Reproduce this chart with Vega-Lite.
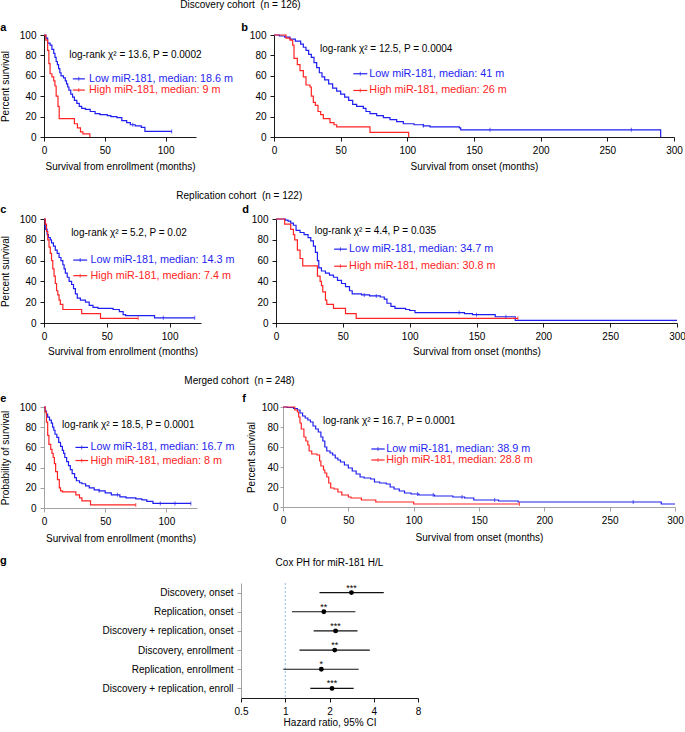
{
"$schema": "https://vega.github.io/schema/vega-lite/v6.json",
"padding": {"left": 0, "top": 0, "right": 0, "bottom": 2},
"background": "white",
"config": {
  "font": "Liberation Sans",
  "view": {"stroke": null},
  "axis": {"grid": false, "domainColor": "black", "tickColor": "black", "labelColor": "black", "titleColor": "black", "labelFontSize": 10, "titleFontSize": 10, "titleFontWeight": "normal", "tickSize": 4, "labelPadding": 4, "domainWidth": 0.9, "tickWidth": 0.9, "titlePadding": 5, "labelFlush": false, "labelOverlap": false},
  "axisY": {"titlePadding": 9},
  "title": {"color": "black", "fontWeight": "normal", "fontSize": 10}
},
"datasets": {
"ka": [
{"t":0,"s":100,"g":"Low"},{"t":1.5,"s":97,"g":"Low"},{"t":3,"s":92,"g":"Low"},{"t":5,"s":90,"g":"Low"},{"t":6.5,"s":86,"g":"Low"},{"t":8,"s":82,"g":"Low"},{"t":9,"s":78,"g":"Low"},{"t":10,"s":74,"g":"Low"},{"t":11,"s":71,"g":"Low"},{"t":12,"s":67,"g":"Low"},{"t":13,"s":63,"g":"Low"},{"t":14,"s":60,"g":"Low"},{"t":16,"s":58,"g":"Low"},{"t":17.5,"s":55,"g":"Low"},{"t":18.5,"s":52,"g":"Low"},{"t":19.5,"s":49,"g":"Low"},{"t":20.5,"s":46,"g":"Low"},{"t":22,"s":42,"g":"Low"},{"t":23.5,"s":39,"g":"Low"},{"t":25,"s":36,"g":"Low"},{"t":27,"s":33,"g":"Low"},{"t":29,"s":30,"g":"Low"},{"t":31,"s":28,"g":"Low"},{"t":34,"s":27,"g":"Low"},{"t":38,"s":25,"g":"Low"},{"t":42,"s":23,"g":"Low"},{"t":46,"s":22,"g":"Low"},{"t":52,"s":21,"g":"Low"},{"t":55,"s":20,"g":"Low"},{"t":60,"s":19,"g":"Low"},{"t":64,"s":16,"g":"Low"},{"t":68,"s":14,"g":"Low"},{"t":71,"s":12,"g":"Low"},{"t":75,"s":11,"g":"Low"},{"t":80,"s":9.5,"g":"Low"},{"t":83,"s":5.5,"g":"Low"},{"t":105,"s":5.5,"g":"Low"},
{"t":0,"s":100,"g":"High"},{"t":1.5,"s":95,"g":"High"},{"t":3,"s":85,"g":"High"},{"t":4,"s":72,"g":"High"},{"t":5,"s":62,"g":"High"},{"t":6.5,"s":59,"g":"High"},{"t":8,"s":55,"g":"High"},{"t":9,"s":50,"g":"High"},{"t":10,"s":40,"g":"High"},{"t":11.5,"s":30,"g":"High"},{"t":12.5,"s":18,"g":"High"},{"t":25,"s":13,"g":"High"},{"t":27.5,"s":9,"g":"High"},{"t":30,"s":5,"g":"High"},{"t":32,"s":3,"g":"High"},{"t":37.7,"s":0,"g":"High"}
],
"ca": [{"t":73,"s":12,"g":"Low"},{"t":105,"s":5.5,"g":"Low"}],
"kb": [
{"t":0,"s":100,"g":"Low"},{"t":4,"s":99,"g":"Low"},{"t":8,"s":98,"g":"Low"},{"t":12,"s":96,"g":"Low"},{"t":16,"s":94,"g":"Low"},{"t":20,"s":91,"g":"Low"},{"t":22,"s":88,"g":"Low"},{"t":24,"s":85,"g":"Low"},{"t":26,"s":81,"g":"Low"},{"t":28,"s":78,"g":"Low"},{"t":30,"s":73,"g":"Low"},{"t":32,"s":68,"g":"Low"},{"t":34,"s":63,"g":"Low"},{"t":36,"s":59,"g":"Low"},{"t":38,"s":56,"g":"Low"},{"t":41,"s":52,"g":"Low"},{"t":44,"s":48,"g":"Low"},{"t":47,"s":45,"g":"Low"},{"t":50,"s":42,"g":"Low"},{"t":53,"s":39,"g":"Low"},{"t":56,"s":36,"g":"Low"},{"t":59,"s":32,"g":"Low"},{"t":62,"s":30,"g":"Low"},{"t":67,"s":28,"g":"Low"},{"t":69,"s":25,"g":"Low"},{"t":72,"s":23,"g":"Low"},{"t":77,"s":21,"g":"Low"},{"t":82,"s":19,"g":"Low"},{"t":87,"s":17,"g":"Low"},{"t":92,"s":15,"g":"Low"},{"t":97,"s":13,"g":"Low"},{"t":105,"s":12,"g":"Low"},{"t":112,"s":11,"g":"Low"},{"t":117,"s":10,"g":"Low"},{"t":139,"s":9,"g":"Low"},{"t":140,"s":7,"g":"Low"},{"t":289,"s":7,"g":"Low"},{"t":290,"s":0,"g":"Low"},
{"t":0,"s":100,"g":"High"},{"t":9,"s":97,"g":"High"},{"t":12,"s":95,"g":"High"},{"t":14,"s":90,"g":"High"},{"t":15,"s":77,"g":"High"},{"t":17.5,"s":71,"g":"High"},{"t":19.5,"s":65,"g":"High"},{"t":22,"s":59,"g":"High"},{"t":24,"s":51,"g":"High"},{"t":27,"s":49,"g":"High"},{"t":28,"s":40,"g":"High"},{"t":29.5,"s":34,"g":"High"},{"t":31,"s":31,"g":"High"},{"t":33,"s":25,"g":"High"},{"t":35,"s":22,"g":"High"},{"t":37,"s":18,"g":"High"},{"t":42,"s":14,"g":"High"},{"t":45,"s":12,"g":"High"},{"t":47,"s":10,"g":"High"},{"t":72,"s":4.5,"g":"High"},{"t":101,"s":0,"g":"High"}
],
"cb": [{"t":112,"s":11,"g":"Low"},{"t":162,"s":7,"g":"Low"},{"t":268,"s":7,"g":"Low"}],
"kc": [
{"t":0,"s":100,"g":"Low"},{"t":1,"s":90,"g":"Low"},{"t":2.5,"s":85,"g":"Low"},{"t":3.5,"s":82,"g":"Low"},{"t":5,"s":80,"g":"Low"},{"t":6,"s":77,"g":"Low"},{"t":7.5,"s":74,"g":"Low"},{"t":9,"s":70,"g":"Low"},{"t":10.5,"s":67,"g":"Low"},{"t":12,"s":63,"g":"Low"},{"t":13.5,"s":60,"g":"Low"},{"t":15,"s":56,"g":"Low"},{"t":16,"s":52,"g":"Low"},{"t":17,"s":48,"g":"Low"},{"t":18.5,"s":44,"g":"Low"},{"t":20,"s":40,"g":"Low"},{"t":22,"s":37,"g":"Low"},{"t":23.5,"s":33,"g":"Low"},{"t":25,"s":28,"g":"Low"},{"t":26.5,"s":24,"g":"Low"},{"t":29,"s":22,"g":"Low"},{"t":33,"s":20,"g":"Low"},{"t":36,"s":17,"g":"Low"},{"t":39,"s":15,"g":"Low"},{"t":43,"s":14,"g":"Low"},{"t":55,"s":13,"g":"Low"},{"t":60,"s":11,"g":"Low"},{"t":63,"s":8,"g":"Low"},{"t":65,"s":7,"g":"Low"},{"t":88,"s":5,"g":"Low"},{"t":120,"s":5,"g":"Low"},
{"t":0,"s":100,"g":"High"},{"t":1,"s":95,"g":"High"},{"t":2,"s":88,"g":"High"},{"t":3,"s":80,"g":"High"},{"t":4,"s":73,"g":"High"},{"t":5,"s":67,"g":"High"},{"t":6,"s":60,"g":"High"},{"t":7,"s":52,"g":"High"},{"t":8,"s":45,"g":"High"},{"t":9,"s":38,"g":"High"},{"t":10,"s":31,"g":"High"},{"t":11,"s":27,"g":"High"},{"t":12,"s":22,"g":"High"},{"t":13,"s":18,"g":"High"},{"t":15,"s":13,"g":"High"},{"t":30,"s":9,"g":"High"},{"t":45,"s":4.5,"g":"High"},{"t":75,"s":4.5,"g":"High"}
],
"cc": [{"t":95,"s":5,"g":"Low"},{"t":120,"s":5,"g":"Low"},{"t":75,"s":4.5,"g":"High"}],
"kd": [
{"t":0,"s":100,"g":"Low"},{"t":7,"s":99,"g":"Low"},{"t":9,"s":98,"g":"Low"},{"t":11,"s":96,"g":"Low"},{"t":13,"s":94,"g":"Low"},{"t":15,"s":89,"g":"Low"},{"t":18,"s":87,"g":"Low"},{"t":21,"s":85,"g":"Low"},{"t":24,"s":82,"g":"Low"},{"t":26,"s":79,"g":"Low"},{"t":28,"s":74,"g":"Low"},{"t":29.5,"s":68,"g":"Low"},{"t":31,"s":60,"g":"Low"},{"t":32,"s":53,"g":"Low"},{"t":34,"s":50,"g":"Low"},{"t":37,"s":48,"g":"Low"},{"t":40,"s":46,"g":"Low"},{"t":43,"s":44,"g":"Low"},{"t":46,"s":41,"g":"Low"},{"t":49,"s":38,"g":"Low"},{"t":52,"s":35,"g":"Low"},{"t":55,"s":31,"g":"Low"},{"t":57,"s":28,"g":"Low"},{"t":64,"s":27,"g":"Low"},{"t":70,"s":26,"g":"Low"},{"t":78,"s":25,"g":"Low"},{"t":81,"s":23,"g":"Low"},{"t":83,"s":19,"g":"Low"},{"t":86,"s":16,"g":"Low"},{"t":89,"s":14,"g":"Low"},{"t":97,"s":13,"g":"Low"},{"t":100,"s":12,"g":"Low"},{"t":104,"s":10,"g":"Low"},{"t":141,"s":9,"g":"Low"},{"t":147,"s":8,"g":"Low"},{"t":164,"s":6,"g":"Low"},{"t":179,"s":2.5,"g":"Low"},{"t":300,"s":2.5,"g":"Low"},
{"t":0,"s":100,"g":"High"},{"t":6.5,"s":95,"g":"High"},{"t":11,"s":90,"g":"High"},{"t":13,"s":85,"g":"High"},{"t":14,"s":80,"g":"High"},{"t":16,"s":70,"g":"High"},{"t":18,"s":62,"g":"High"},{"t":20,"s":55,"g":"High"},{"t":31,"s":45,"g":"High"},{"t":33,"s":40,"g":"High"},{"t":34,"s":36,"g":"High"},{"t":35,"s":30,"g":"High"},{"t":37,"s":22,"g":"High"},{"t":38,"s":18,"g":"High"},{"t":43,"s":14,"g":"High"},{"t":52,"s":9,"g":"High"},{"t":60,"s":4.5,"g":"High"},{"t":181,"s":4.5,"g":"High"}
],
"cd": [{"t":66,"s":27,"g":"Low"},{"t":75,"s":26,"g":"Low"},{"t":137,"s":10,"g":"Low"},{"t":150,"s":8,"g":"Low"},{"t":172,"s":6,"g":"Low"},{"t":181,"s":4.5,"g":"High"}],
"ke": [
{"t":0,"s":100,"g":"Low"},{"t":1,"s":96,"g":"Low"},{"t":2,"s":93,"g":"Low"},{"t":3,"s":90,"g":"Low"},{"t":4.5,"s":87,"g":"Low"},{"t":6,"s":84,"g":"Low"},{"t":7,"s":80,"g":"Low"},{"t":8,"s":77,"g":"Low"},{"t":9,"s":73,"g":"Low"},{"t":10.5,"s":70,"g":"Low"},{"t":12,"s":65,"g":"Low"},{"t":13.5,"s":61,"g":"Low"},{"t":15,"s":57,"g":"Low"},{"t":16,"s":54,"g":"Low"},{"t":17,"s":50,"g":"Low"},{"t":18.5,"s":46,"g":"Low"},{"t":20,"s":42,"g":"Low"},{"t":21.5,"s":38,"g":"Low"},{"t":23,"s":34,"g":"Low"},{"t":25,"s":30,"g":"Low"},{"t":26.5,"s":27,"g":"Low"},{"t":29,"s":25,"g":"Low"},{"t":31,"s":24,"g":"Low"},{"t":34,"s":22,"g":"Low"},{"t":37,"s":20,"g":"Low"},{"t":41,"s":18,"g":"Low"},{"t":45,"s":17,"g":"Low"},{"t":50,"s":15,"g":"Low"},{"t":55,"s":13,"g":"Low"},{"t":62,"s":11,"g":"Low"},{"t":67,"s":10,"g":"Low"},{"t":75,"s":9,"g":"Low"},{"t":80,"s":8,"g":"Low"},{"t":84,"s":6.5,"g":"Low"},{"t":89,"s":4.5,"g":"Low"},{"t":120,"s":4.5,"g":"Low"},
{"t":0,"s":100,"g":"High"},{"t":1,"s":95,"g":"High"},{"t":2,"s":85,"g":"High"},{"t":3,"s":72,"g":"High"},{"t":4,"s":63,"g":"High"},{"t":5.5,"s":58,"g":"High"},{"t":6.5,"s":54,"g":"High"},{"t":7.5,"s":50,"g":"High"},{"t":8.5,"s":44,"g":"High"},{"t":9.5,"s":36,"g":"High"},{"t":11,"s":28,"g":"High"},{"t":12.5,"s":20,"g":"High"},{"t":13.5,"s":17,"g":"High"},{"t":15,"s":16,"g":"High"},{"t":26,"s":13,"g":"High"},{"t":29,"s":10,"g":"High"},{"t":31,"s":7,"g":"High"},{"t":38,"s":3,"g":"High"},{"t":75,"s":3,"g":"High"}
],
"ce": [{"t":45,"s":17,"g":"Low"},{"t":60,"s":13,"g":"Low"},{"t":95,"s":4.5,"g":"Low"},{"t":107,"s":4.5,"g":"Low"},{"t":120,"s":4.5,"g":"Low"},{"t":75,"s":3,"g":"High"}],
"kf": [
{"t":0,"s":100,"g":"Low"},{"t":3,"s":99.5,"g":"Low"},{"t":8,"s":98.5,"g":"Low"},{"t":11,"s":97,"g":"Low"},{"t":13,"s":94,"g":"Low"},{"t":15,"s":91,"g":"Low"},{"t":17,"s":89,"g":"Low"},{"t":19,"s":87,"g":"Low"},{"t":21,"s":85,"g":"Low"},{"t":23,"s":81,"g":"Low"},{"t":25,"s":78,"g":"Low"},{"t":27,"s":75,"g":"Low"},{"t":29,"s":70,"g":"Low"},{"t":30.5,"s":66,"g":"Low"},{"t":32,"s":60,"g":"Low"},{"t":33.5,"s":56,"g":"Low"},{"t":36,"s":54,"g":"Low"},{"t":38,"s":52,"g":"Low"},{"t":40,"s":49,"g":"Low"},{"t":42,"s":47,"g":"Low"},{"t":44,"s":45,"g":"Low"},{"t":47,"s":42,"g":"Low"},{"t":50,"s":39,"g":"Low"},{"t":53,"s":36,"g":"Low"},{"t":56,"s":33,"g":"Low"},{"t":59,"s":30,"g":"Low"},{"t":62,"s":29,"g":"Low"},{"t":67,"s":28,"g":"Low"},{"t":70,"s":25,"g":"Low"},{"t":74,"s":24,"g":"Low"},{"t":79,"s":23,"g":"Low"},{"t":82,"s":20,"g":"Low"},{"t":85,"s":18,"g":"Low"},{"t":89,"s":16,"g":"Low"},{"t":93,"s":14,"g":"Low"},{"t":98,"s":13,"g":"Low"},{"t":104,"s":12,"g":"Low"},{"t":116,"s":11,"g":"Low"},{"t":130,"s":10,"g":"Low"},{"t":139,"s":9,"g":"Low"},{"t":146,"s":7,"g":"Low"},{"t":165,"s":6,"g":"Low"},{"t":180,"s":5,"g":"Low"},{"t":289.5,"s":3,"g":"Low"},{"t":300,"s":3,"g":"Low"},
{"t":0,"s":100,"g":"High"},{"t":9,"s":97,"g":"High"},{"t":11,"s":95,"g":"High"},{"t":12,"s":90,"g":"High"},{"t":13,"s":84,"g":"High"},{"t":14,"s":78,"g":"High"},{"t":16,"s":70,"g":"High"},{"t":17.5,"s":66,"g":"High"},{"t":19,"s":62,"g":"High"},{"t":20,"s":56,"g":"High"},{"t":22,"s":53,"g":"High"},{"t":26,"s":52,"g":"High"},{"t":28,"s":46,"g":"High"},{"t":29,"s":41,"g":"High"},{"t":31,"s":37,"g":"High"},{"t":32,"s":34,"g":"High"},{"t":33.5,"s":30,"g":"High"},{"t":35,"s":24,"g":"High"},{"t":36.5,"s":19,"g":"High"},{"t":39,"s":18,"g":"High"},{"t":42,"s":15,"g":"High"},{"t":45,"s":12,"g":"High"},{"t":50,"s":10,"g":"High"},{"t":52,"s":9,"g":"High"},{"t":60,"s":7,"g":"High"},{"t":71,"s":5,"g":"High"},{"t":100,"s":3,"g":"High"},{"t":181,"s":3,"g":"High"}
],
"cf": [{"t":103,"s":13,"g":"Low"},{"t":115,"s":12,"g":"Low"},{"t":137,"s":10,"g":"Low"},{"t":162,"s":7,"g":"Low"},{"t":268,"s":5,"g":"Low"},{"t":181,"s":3,"g":"High"}],
"forest": [
{"label":"Discovery, onset","hr":2.82,"lo":1.71,"hi":4.68,"stars":"***"},
{"label":"Replication, onset","hr":1.83,"lo":1.11,"hi":3.0,"stars":"**"},
{"label":"Discovery + replication, onset","hr":2.2,"lo":1.56,"hi":3.1,"stars":"***"},
{"label":"Discovery, enrollment","hr":2.17,"lo":1.25,"hi":3.76,"stars":"**"},
{"label":"Replication, enrollment","hr":1.76,"lo":0.97,"hi":3.16,"stars":"*"},
{"label":"Discovery + replication, enroll","hr":2.08,"lo":1.48,"hi":2.92,"stars":"***"}
]
},
"vconcat": [
{"vconcat": [
 {"title": {"text": "Discovery cohort\u00a0 (n = 126)", "anchor": "start", "dx": 180, "offset": 12},
  "bounds": "flush", "spacing": 78,
  "hconcat": [
  {"width": 152, "height": 102,
   "title": {"text": "a", "anchor": "start", "fontWeight": "bold", "fontSize": 11, "offset": -3},
   "layer": [
    {"data": {"name": "ka"}, "mark": {"type": "line", "interpolate": "step-after", "strokeWidth": 1.2},
     "encoding": {"x": {"field": "t", "type": "quantitative", "scale": {"domain": [0, 125], "nice": false}, "axis": {"values": [0, 50, 100], "tickCount": 10, "title": "Survival from enrollment (months)", "titlePadding": 6}},
      "y": {"field": "s", "type": "quantitative", "scale": {"domain": [0, 100], "nice": false}, "axis": {"values": [0, 20, 40, 60, 80, 100], "tickCount": 10, "title": "Percent survival"}},
      "color": {"field": "g", "type": "nominal", "scale": {"domain": ["Low", "High"], "range": ["#1f1ff0", "#ff2424"]}, "legend": null}}},
    {"data": {"name": "ca"}, "mark": {"type": "tick", "orient": "vertical", "size": 4, "thickness": 1},
     "encoding": {"x": {"field": "t", "type": "quantitative"}, "y": {"field": "s", "type": "quantitative"}, "color": {"field": "g", "type": "nominal", "scale": {"domain": ["Low", "High"], "range": ["#1f1ff0", "#ff2424"]}, "legend": null}}},
    {"data": {"values": [{}]}, "mark": {"type": "text", "align": "left", "baseline": "middle", "fontSize": 10}, "encoding": {"x": {"datum": 20.7}, "y": {"datum": 80}, "text": {"value": "log-rank χ² = 13.6, P = 0.0002"}}},
    {"data": {"values": [{}]}, "mark": {"type": "rule", "color": "#1f1ff0", "strokeWidth": 1.2}, "encoding": {"x": {"datum": 23.7}, "x2": {"datum": 33.6}, "y": {"datum": 57}}},
    {"data": {"values": [{}]}, "mark": {"type": "tick", "orient": "vertical", "size": 4, "thickness": 1, "color": "#1f1ff0"}, "encoding": {"x": {"datum": 28.6}, "y": {"datum": 57}}},
    {"data": {"values": [{}]}, "mark": {"type": "text", "align": "left", "baseline": "middle", "fontSize": 10.8, "color": "#1f1ff0"}, "encoding": {"x": {"datum": 37}, "y": {"datum": 57}, "text": {"value": "Low miR-181, median: 18.6 m"}}},
    {"data": {"values": [{}]}, "mark": {"type": "rule", "color": "#ff2424", "strokeWidth": 1.2}, "encoding": {"x": {"datum": 23.7}, "x2": {"datum": 33.6}, "y": {"datum": 46}}},
    {"data": {"values": [{}]}, "mark": {"type": "tick", "orient": "vertical", "size": 4, "thickness": 1, "color": "#ff2424"}, "encoding": {"x": {"datum": 28.6}, "y": {"datum": 46}}},
    {"data": {"values": [{}]}, "mark": {"type": "text", "align": "left", "baseline": "middle", "fontSize": 10.8, "color": "#ff2424"}, "encoding": {"x": {"datum": 37}, "y": {"datum": 46}, "text": {"value": "High miR-181, median: 9 m"}}}
   ]},
  {"width": 400, "height": 102,
   "title": {"text": "b", "anchor": "start", "fontWeight": "bold", "fontSize": 11, "offset": -3, "dx": -8},
   "layer": [
    {"data": {"name": "kb"}, "mark": {"type": "line", "interpolate": "step-after", "strokeWidth": 1.2},
     "encoding": {"x": {"field": "t", "type": "quantitative", "scale": {"domain": [0, 300], "nice": false}, "axis": {"values": [0, 50, 100, 150, 200, 250, 300], "tickCount": 10, "title": "Survival from onset (months)", "titlePadding": 6}},
      "y": {"field": "s", "type": "quantitative", "scale": {"domain": [0, 100], "nice": false}, "axis": {"values": [0, 20, 40, 60, 80, 100], "tickCount": 10, "title": null}},
      "color": {"field": "g", "type": "nominal", "scale": {"domain": ["Low", "High"], "range": ["#1f1ff0", "#ff2424"]}, "legend": null}}},
    {"data": {"name": "cb"}, "mark": {"type": "tick", "orient": "vertical", "size": 4, "thickness": 1},
     "encoding": {"x": {"field": "t", "type": "quantitative"}, "y": {"field": "s", "type": "quantitative"}, "color": {"field": "g", "type": "nominal", "scale": {"domain": ["Low", "High"], "range": ["#1f1ff0", "#ff2424"]}, "legend": null}}},
    {"data": {"values": [{}]}, "mark": {"type": "text", "align": "left", "baseline": "middle", "fontSize": 10}, "encoding": {"x": {"datum": 34.5}, "y": {"datum": 86}, "text": {"value": "log-rank χ² = 12.5, P = 0.0004"}}},
    {"data": {"values": [{}]}, "mark": {"type": "rule", "color": "#1f1ff0", "strokeWidth": 1.2}, "encoding": {"x": {"datum": 59.5}, "x2": {"datum": 70}, "y": {"datum": 62}}},
    {"data": {"values": [{}]}, "mark": {"type": "tick", "orient": "vertical", "size": 4, "thickness": 1, "color": "#1f1ff0"}, "encoding": {"x": {"datum": 64.7}, "y": {"datum": 62}}},
    {"data": {"values": [{}]}, "mark": {"type": "text", "align": "left", "baseline": "middle", "fontSize": 10.8, "color": "#1f1ff0"}, "encoding": {"x": {"datum": 71.5}, "y": {"datum": 62}, "text": {"value": "Low miR-181, median: 41 m"}}},
    {"data": {"values": [{}]}, "mark": {"type": "rule", "color": "#ff2424", "strokeWidth": 1.2}, "encoding": {"x": {"datum": 59.5}, "x2": {"datum": 70}, "y": {"datum": 45.6}}},
    {"data": {"values": [{}]}, "mark": {"type": "tick", "orient": "vertical", "size": 4, "thickness": 1, "color": "#ff2424"}, "encoding": {"x": {"datum": 64.7}, "y": {"datum": 45.6}}},
    {"data": {"values": [{}]}, "mark": {"type": "text", "align": "left", "baseline": "middle", "fontSize": 10.8, "color": "#ff2424"}, "encoding": {"x": {"datum": 71.5}, "y": {"datum": 45.6}, "text": {"value": "High miR-181, median: 26 m"}}}
   ]}
  ]},
 {"title": {"text": "Replication cohort\u00a0 (n = 122)", "anchor": "start", "dx": 176, "offset": 3},
  "bounds": "flush", "spacing": 75,
  "hconcat": [
  {"width": 157, "height": 104,
   "title": {"text": "c", "anchor": "start", "fontWeight": "bold", "fontSize": 11, "offset": -1},
   "layer": [
    {"data": {"name": "kc"}, "mark": {"type": "line", "interpolate": "step-after", "strokeWidth": 1.2},
     "encoding": {"x": {"field": "t", "type": "quantitative", "scale": {"domain": [0, 125], "nice": false}, "axis": {"values": [0, 50, 100], "tickCount": 10, "title": "Survival from enrollment (months)"}},
      "y": {"field": "s", "type": "quantitative", "scale": {"domain": [0, 100], "nice": false}, "axis": {"values": [0, 20, 40, 60, 80, 100], "tickCount": 10, "title": "Percent survival"}},
      "color": {"field": "g", "type": "nominal", "scale": {"domain": ["Low", "High"], "range": ["#1f1ff0", "#ff2424"]}, "legend": null}}},
    {"data": {"name": "cc"}, "mark": {"type": "tick", "orient": "vertical", "size": 4, "thickness": 1},
     "encoding": {"x": {"field": "t", "type": "quantitative"}, "y": {"field": "s", "type": "quantitative"}, "color": {"field": "g", "type": "nominal", "scale": {"domain": ["Low", "High"], "range": ["#1f1ff0", "#ff2424"]}, "legend": null}}},
    {"data": {"values": [{}]}, "mark": {"type": "text", "align": "left", "baseline": "middle", "fontSize": 10}, "encoding": {"x": {"datum": 21.6}, "y": {"datum": 87}, "text": {"value": "log-rank χ² = 5.2, P = 0.02"}}},
    {"data": {"values": [{}]}, "mark": {"type": "rule", "color": "#1f1ff0", "strokeWidth": 1.2}, "encoding": {"x": {"datum": 23.3}, "x2": {"datum": 34.4}, "y": {"datum": 60.5}}},
    {"data": {"values": [{}]}, "mark": {"type": "tick", "orient": "vertical", "size": 4, "thickness": 1, "color": "#1f1ff0"}, "encoding": {"x": {"datum": 28.8}, "y": {"datum": 60.5}}},
    {"data": {"values": [{}]}, "mark": {"type": "text", "align": "left", "baseline": "middle", "fontSize": 10.8, "color": "#1f1ff0"}, "encoding": {"x": {"datum": 37}, "y": {"datum": 60.5}, "text": {"value": "Low miR-181, median: 14.3 m"}}},
    {"data": {"values": [{}]}, "mark": {"type": "rule", "color": "#ff2424", "strokeWidth": 1.2}, "encoding": {"x": {"datum": 23.3}, "x2": {"datum": 34.4}, "y": {"datum": 45.5}}},
    {"data": {"values": [{}]}, "mark": {"type": "tick", "orient": "vertical", "size": 4, "thickness": 1, "color": "#ff2424"}, "encoding": {"x": {"datum": 28.8}, "y": {"datum": 45.5}}},
    {"data": {"values": [{}]}, "mark": {"type": "text", "align": "left", "baseline": "middle", "fontSize": 10.8, "color": "#ff2424"}, "encoding": {"x": {"datum": 37}, "y": {"datum": 45.5}, "text": {"value": "High miR-181, median: 7.4 m"}}}
   ]},
  {"width": 401, "height": 104,
   "title": {"text": "d", "anchor": "start", "fontWeight": "bold", "fontSize": 11, "offset": -1, "dx": -9},
   "layer": [
    {"data": {"name": "kd"}, "mark": {"type": "line", "interpolate": "step-after", "strokeWidth": 1.2},
     "encoding": {"x": {"field": "t", "type": "quantitative", "scale": {"domain": [0, 300], "nice": false}, "axis": {"values": [0, 50, 100, 150, 200, 250, 300], "tickCount": 10, "title": "Survival from onset (months)"}},
      "y": {"field": "s", "type": "quantitative", "scale": {"domain": [0, 100], "nice": false}, "axis": {"values": [0, 20, 40, 60, 80, 100], "tickCount": 10, "title": null}},
      "color": {"field": "g", "type": "nominal", "scale": {"domain": ["Low", "High"], "range": ["#1f1ff0", "#ff2424"]}, "legend": null}}},
    {"data": {"name": "cd"}, "mark": {"type": "tick", "orient": "vertical", "size": 4, "thickness": 1},
     "encoding": {"x": {"field": "t", "type": "quantitative"}, "y": {"field": "s", "type": "quantitative"}, "color": {"field": "g", "type": "nominal", "scale": {"domain": ["Low", "High"], "range": ["#1f1ff0", "#ff2424"]}, "legend": null}}},
    {"data": {"values": [{}]}, "mark": {"type": "text", "align": "left", "baseline": "middle", "fontSize": 10}, "encoding": {"x": {"datum": 29}, "y": {"datum": 88.5}, "text": {"value": "log-rank χ² = 4.4, P = 0.035"}}},
    {"data": {"values": [{}]}, "mark": {"type": "rule", "color": "#1f1ff0", "strokeWidth": 1.2}, "encoding": {"x": {"datum": 43.5}, "x2": {"datum": 53}, "y": {"datum": 71}}},
    {"data": {"values": [{}]}, "mark": {"type": "tick", "orient": "vertical", "size": 4, "thickness": 1, "color": "#1f1ff0"}, "encoding": {"x": {"datum": 48.2}, "y": {"datum": 71}}},
    {"data": {"values": [{}]}, "mark": {"type": "text", "align": "left", "baseline": "middle", "fontSize": 10.8, "color": "#1f1ff0"}, "encoding": {"x": {"datum": 54.7}, "y": {"datum": 71}, "text": {"value": "Low miR-181, median: 34.7 m"}}},
    {"data": {"values": [{}]}, "mark": {"type": "rule", "color": "#ff2424", "strokeWidth": 1.2}, "encoding": {"x": {"datum": 43.5}, "x2": {"datum": 53}, "y": {"datum": 54.6}}},
    {"data": {"values": [{}]}, "mark": {"type": "tick", "orient": "vertical", "size": 4, "thickness": 1, "color": "#ff2424"}, "encoding": {"x": {"datum": 48.2}, "y": {"datum": 54.6}}},
    {"data": {"values": [{}]}, "mark": {"type": "text", "align": "left", "baseline": "middle", "fontSize": 10.8, "color": "#ff2424"}, "encoding": {"x": {"datum": 54.7}, "y": {"datum": 54.6}, "text": {"value": "High miR-181, median: 30.8 m"}}}
   ]}
  ]}
 ], "spacing": 20},
{"vconcat": [
 {"title": {"text": "Merged cohort\u00a0 (n = 248)", "anchor": "start", "dx": 184, "offset": 7},
  "bounds": "flush", "spacing": 86,
  "hconcat": [
  {"width": 153, "height": 101,
   "title": {"text": "e", "anchor": "start", "fontWeight": "bold", "fontSize": 11, "offset": -2},
   "layer": [
    {"data": {"name": "ke"}, "mark": {"type": "line", "interpolate": "step-after", "strokeWidth": 1.2},
     "encoding": {"x": {"field": "t", "type": "quantitative", "scale": {"domain": [0, 125], "nice": false}, "axis": {"values": [0, 50, 100], "tickCount": 10, "title": "Survival from enrollment (months)", "domainColor": "#999999", "tickColor": "#999999", "titlePadding": 7}},
      "y": {"field": "s", "type": "quantitative", "scale": {"domain": [0, 100], "nice": false}, "axis": {"values": [0, 20, 40, 60, 80, 100], "tickCount": 10, "title": "Probability of survival", "domainColor": "#999999", "tickColor": "#999999"}},
      "color": {"field": "g", "type": "nominal", "scale": {"domain": ["Low", "High"], "range": ["#1f1ff0", "#ff2424"]}, "legend": null}}},
    {"data": {"name": "ce"}, "mark": {"type": "tick", "orient": "vertical", "size": 4, "thickness": 1},
     "encoding": {"x": {"field": "t", "type": "quantitative"}, "y": {"field": "s", "type": "quantitative"}, "color": {"field": "g", "type": "nominal", "scale": {"domain": ["Low", "High"], "range": ["#1f1ff0", "#ff2424"]}, "legend": null}}},
    {"data": {"values": [{}]}, "mark": {"type": "text", "align": "left", "baseline": "middle", "fontSize": 10}, "encoding": {"x": {"datum": 14.8}, "y": {"datum": 82}, "text": {"value": "log-rank χ² = 18.5, P = 0.0001"}}},
    {"data": {"values": [{}]}, "mark": {"type": "rule", "color": "#1f1ff0", "strokeWidth": 1.2}, "encoding": {"x": {"datum": 25.7}, "x2": {"datum": 36}, "y": {"datum": 60}}},
    {"data": {"values": [{}]}, "mark": {"type": "tick", "orient": "vertical", "size": 4, "thickness": 1, "color": "#1f1ff0"}, "encoding": {"x": {"datum": 30.8}, "y": {"datum": 60}}},
    {"data": {"values": [{}]}, "mark": {"type": "text", "align": "left", "baseline": "middle", "fontSize": 10.8, "color": "#1f1ff0"}, "encoding": {"x": {"datum": 38}, "y": {"datum": 60}, "text": {"value": "Low miR-181, median: 16.7 m"}}},
    {"data": {"values": [{}]}, "mark": {"type": "rule", "color": "#ff2424", "strokeWidth": 1.2}, "encoding": {"x": {"datum": 25.7}, "x2": {"datum": 36}, "y": {"datum": 47}}},
    {"data": {"values": [{}]}, "mark": {"type": "tick", "orient": "vertical", "size": 4, "thickness": 1, "color": "#ff2424"}, "encoding": {"x": {"datum": 30.8}, "y": {"datum": 47}}},
    {"data": {"values": [{}]}, "mark": {"type": "text", "align": "left", "baseline": "middle", "fontSize": 10.8, "color": "#ff2424"}, "encoding": {"x": {"datum": 38}, "y": {"datum": 47}, "text": {"value": "High miR-181, median: 8 m"}}}
   ]},
  {"width": 392, "height": 100,
   "title": {"text": "f", "anchor": "start", "fontWeight": "bold", "fontSize": 11, "offset": -2, "dx": -4},
   "layer": [
    {"data": {"name": "kf"}, "mark": {"type": "line", "interpolate": "step-after", "strokeWidth": 1.2},
     "encoding": {"x": {"field": "t", "type": "quantitative", "scale": {"domain": [0, 300], "nice": false}, "axis": {"values": [0, 50, 100, 150, 200, 250, 300], "tickCount": 10, "title": "Survival from onset (months)", "domainColor": "#999999", "tickColor": "#999999", "titlePadding": 7}},
      "y": {"field": "s", "type": "quantitative", "scale": {"domain": [0, 100], "nice": false}, "axis": {"values": [0, 20, 40, 60, 80, 100], "tickCount": 10, "title": "Percent survival", "domainColor": "#999999", "tickColor": "#999999", "labelPadding": 2, "tickSize": 3, "titlePadding": 5}},
      "color": {"field": "g", "type": "nominal", "scale": {"domain": ["Low", "High"], "range": ["#1f1ff0", "#ff2424"]}, "legend": null}}},
    {"data": {"name": "cf"}, "mark": {"type": "tick", "orient": "vertical", "size": 4, "thickness": 1},
     "encoding": {"x": {"field": "t", "type": "quantitative"}, "y": {"field": "s", "type": "quantitative"}, "color": {"field": "g", "type": "nominal", "scale": {"domain": ["Low", "High"], "range": ["#1f1ff0", "#ff2424"]}, "legend": null}}},
    {"data": {"values": [{}]}, "mark": {"type": "text", "align": "left", "baseline": "middle", "fontSize": 10}, "encoding": {"x": {"datum": 30.6}, "y": {"datum": 86}, "text": {"value": "log-rank χ² = 16.7, P = 0.0001"}}},
    {"data": {"values": [{}]}, "mark": {"type": "rule", "color": "#1f1ff0", "strokeWidth": 1.2}, "encoding": {"x": {"datum": 67.6}, "x2": {"datum": 77.8}, "y": {"datum": 58}}},
    {"data": {"values": [{}]}, "mark": {"type": "tick", "orient": "vertical", "size": 4, "thickness": 1, "color": "#1f1ff0"}, "encoding": {"x": {"datum": 72.7}, "y": {"datum": 58}}},
    {"data": {"values": [{}]}, "mark": {"type": "text", "align": "left", "baseline": "middle", "fontSize": 10.8, "color": "#1f1ff0"}, "encoding": {"x": {"datum": 79}, "y": {"datum": 58}, "text": {"value": "Low miR-181, median: 38.9 m"}}},
    {"data": {"values": [{}]}, "mark": {"type": "rule", "color": "#ff2424", "strokeWidth": 1.2}, "encoding": {"x": {"datum": 67.6}, "x2": {"datum": 77.8}, "y": {"datum": 47}}},
    {"data": {"values": [{}]}, "mark": {"type": "tick", "orient": "vertical", "size": 4, "thickness": 1, "color": "#ff2424"}, "encoding": {"x": {"datum": 72.7}, "y": {"datum": 47}}},
    {"data": {"values": [{}]}, "mark": {"type": "text", "align": "left", "baseline": "middle", "fontSize": 10.8, "color": "#ff2424"}, "encoding": {"x": {"datum": 79}, "y": {"datum": 47}, "text": {"value": "High miR-181, median: 28.8 m"}}}
   ]}
 ]},
 {"bounds": "flush", "spacing": 42,
  "hconcat": [
  {"width": 155, "height": 115, "data": {"values": []}, "mark": "point", "encoding": {},
   "title": {"text": "g", "anchor": "start", "fontWeight": "bold", "fontSize": 11, "offset": 17, "dx": -44}},
  {"width": 177, "height": 115,
   "title": {"text": "Cox PH for miR-181 H/L", "anchor": "middle", "frame": "group", "offset": 14},
   "data": {"name": "forest"},
   "layer": [
    {"data": {"values": [{}]}, "mark": {"type": "rule", "color": "#a3c4ee", "strokeDash": [2, 2], "strokeWidth": 1.2}, "encoding": {"x": {"datum": 1}}},
    {"mark": {"type": "rule", "strokeWidth": 1.2, "color": "#111111"},
     "encoding": {"x": {"field": "lo", "type": "quantitative", "scale": {"type": "log", "base": 2, "domain": [0.5, 8], "nice": false}, "axis": {"values": [0.5, 1, 2, 4, 8], "tickCount": 10, "format": "~g", "title": "Hazard ratio, 95% CI", "titlePadding": 1}},
      "x2": {"field": "hi"},
      "y": {"field": "label", "type": "nominal", "sort": null, "scale": {"type": "point", "padding": 0.5}, "axis": {"title": null, "domainColor": "#999999", "tickColor": "#999999"}}}},
    {"mark": {"type": "point", "filled": true, "size": 24, "color": "black", "opacity": 1},
     "encoding": {"x": {"field": "hr", "type": "quantitative"}, "y": {"field": "label", "type": "nominal", "sort": null}}},
    {"mark": {"type": "text", "baseline": "alphabetic", "dy": -2, "fontSize": 9, "color": "black", "letterSpacing": 1},
     "encoding": {"x": {"field": "hr", "type": "quantitative"}, "y": {"field": "label", "type": "nominal", "sort": null}, "text": {"field": "stars"}}}
   ]}
  ]}
 ], "spacing": 12}
],
"spacing": 20
}
